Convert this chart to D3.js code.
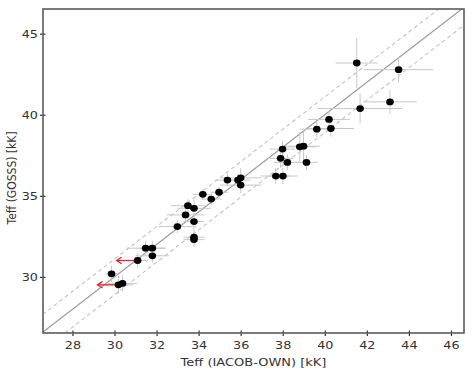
<!DOCTYPE html>
<html>
<head>
<meta charset="utf-8">
<script src="https://cdn.jsdelivr.net/npm/d3@7"></script>
<style>
  body { margin: 0; background: #fff; }
  text { font-family: "DejaVu Sans", sans-serif; fill: #333; }
</style>
</head>
<body>
<div id="chart"></div>
<script>
// Teff from IACOB-OWN (x) vs GOSSS (y), kK
const teffOwn   = [29.86, 30.19, 30.38, 31.10, 31.48, 31.80, 31.80, 32.99, 33.38, 33.49, 33.78, 33.78, 33.78, 33.78,
                   34.20, 34.60, 34.97, 35.37, 35.87, 36.00, 36.00, 37.67, 38.01, 37.90, 38.22, 37.99, 38.81, 38.99,
                   39.13, 39.62, 40.20, 40.29, 41.68, 43.10, 41.52, 43.51];
const teffGosss = [30.19, 29.51, 29.60, 31.01, 31.77, 31.77, 31.30, 33.10, 33.82, 34.39, 34.23, 33.41, 32.45, 32.30,
                   35.09, 34.80, 35.22, 35.97, 35.97, 36.11, 35.66, 36.22, 36.22, 37.31, 37.06, 37.88, 38.02, 38.06,
                   37.06, 39.11, 39.71, 39.15, 40.38, 40.79, 43.19, 42.78];
const errOwn    = [0.3, 0.7, 0.7, 0.5, 0.9, 0.65, 0.8, 0.9, 0.9, 0.8, 0.8, 0.5, 0.5, 0.5,
                   0.45, 0.5, 0.4, 0.6, 0.6, 1.0, 1.0, 0.7, 0.7, 0.6, 0.65, 0.6, 0.8, 0.8,
                   0.55, 0.8, 1.0, 1.1, 2.0, 1.27, 1.0, 1.65];
const errGosss  = [0.5, 0.55, 0.5, 0.45, 0.45, 0.45, 0.4, 0.4, 0.4, 0.4, 0.5, 0.5, 0.45, 0.45,
                   0.35, 0.35, 0.35, 0.4, 0.4, 0.6, 0.5, 0.5, 0.5, 0.6, 0.5, 0.5, 0.9, 0.9,
                   0.45, 0.5, 0.5, 0.5, 0.92, 0.74, 1.54, 0.78];
// upper limits on IACOB-OWN: index of the star, arrow length in kK
const upperLimits = [{i: 1, len: 1.0}, {i: 3, len: 1.0}];

const xTicks = [28, 30, 32, 34, 36, 38, 40, 42, 44, 46];
const yTicks = [30, 35, 40, 45];
const band = 1.1;

const width = 474, height = 375;
const margin = {top: 9, right: 10, bottom: 42, left: 43};
const squash = 0.83; // the figure is a bit flattened vertically

const x = d3.scaleLinear().domain([26.6, 46.62]).range([margin.left, width - margin.right]);
const y = d3.scaleLinear().domain([26.54, 46.52]).range([height - margin.bottom, margin.top]);

const svg = d3.select("#chart").append("svg")
    .attr("width", width)
    .attr("height", height);

svg.append("defs").append("clipPath").attr("id", "plot-clip")
    .append("rect")
    .attr("x", margin.left).attr("y", margin.top)
    .attr("width", x.range()[1] - margin.left)
    .attr("height", y.range()[0] - margin.top);

const plot = svg.append("g").attr("clip-path", "url(#plot-clip)");

// one-to-one line and +-band lines
const lo = 20, hi = 50;
const lines = [
    {d: 0, dash: null, color: "#9a9a9a", w: 1.2},
    {d: band, dash: "4,3", color: "#c4c4c4", w: 1.1},
    {d: -band, dash: "4,3", color: "#c4c4c4", w: 1.1}
];
plot.selectAll("line.diag")
    .data(lines)
    .enter().append("line")
    .attr("class", "diag")
    .attr("x1", x(lo)).attr("y1", d => y(lo + d.d))
    .attr("x2", x(hi)).attr("y2", d => y(hi + d.d))
    .attr("stroke", d => d.color)
    .attr("stroke-width", d => d.w)
    .attr("stroke-dasharray", d => d.dash);

const idx = d3.range(teffOwn.length);

// error bars
plot.selectAll("line.xerr")
    .data(idx)
    .enter().append("line")
    .attr("class", "xerr")
    .attr("x1", i => x(teffOwn[i] - errOwn[i])).attr("x2", i => x(teffOwn[i] + errOwn[i]))
    .attr("y1", i => y(teffGosss[i])).attr("y2", i => y(teffGosss[i]))
    .attr("stroke", "#c8c8c8").attr("stroke-width", 1);

plot.selectAll("line.yerr")
    .data(idx)
    .enter().append("line")
    .attr("class", "yerr")
    .attr("x1", i => x(teffOwn[i])).attr("x2", i => x(teffOwn[i]))
    .attr("y1", i => y(teffGosss[i] - errGosss[i])).attr("y2", i => y(teffGosss[i] + errGosss[i]))
    .attr("stroke", "#c8c8c8").attr("stroke-width", 1);

// upper-limit arrows
const arrows = plot.selectAll("g.limit")
    .data(upperLimits)
    .enter().append("g")
    .attr("class", "limit")
    .attr("stroke", "#e3262b")
    .attr("stroke-width", 1.3)
    .attr("fill", "none");

arrows.append("line")
    .attr("x1", d => x(teffOwn[d.i])).attr("x2", d => x(teffOwn[d.i] - d.len))
    .attr("y1", d => y(teffGosss[d.i])).attr("y2", d => y(teffGosss[d.i]));

arrows.append("path")
    .attr("d", d => {
        const tx = x(teffOwn[d.i] - d.len), ty = y(teffGosss[d.i]);
        return `M${tx + 5},${ty - 3.2}L${tx},${ty}L${tx + 5},${ty + 3.2}`;
    });

// points
plot.selectAll("ellipse.star")
    .data(idx)
    .enter().append("ellipse")
    .attr("class", "star")
    .attr("cx", i => x(teffOwn[i]))
    .attr("cy", i => y(teffGosss[i]))
    .attr("rx", 3.8)
    .attr("ry", 3.4)
    .attr("fill", "#000");

// axes
const xAxis = svg.append("g")
    .attr("transform", `translate(0,${y.range()[0]})`)
    .call(d3.axisBottom(x).tickValues(xTicks).tickSizeInner(3).tickSizeOuter(0));
const yAxis = svg.append("g")
    .attr("transform", `translate(${margin.left},0)`)
    .call(d3.axisLeft(y).tickValues(yTicks).tickSizeInner(3).tickSizeOuter(0));

[xAxis, yAxis].forEach(a => {
    a.select(".domain").remove();
    a.selectAll(".tick line").attr("stroke", "#333").attr("stroke-width", 1.2);
    a.selectAll(".tick text").attr("font-size", 12.8).attr("fill", "#333")
        .attr("x", 0).attr("y", 0).attr("dy", null);
});
xAxis.selectAll(".tick text").attr("transform", `translate(0,16) scale(1,${squash})`);
yAxis.selectAll(".tick text").attr("transform", `translate(-5,3.9) scale(1,${squash})`);
// inner half of ticks
xAxis.selectAll(".tick").append("line").attr("y1", 0).attr("y2", -2.5).attr("stroke", "#333").attr("stroke-width", 1.2);
yAxis.selectAll(".tick").append("line").attr("x1", 0).attr("x2", 2.5).attr("stroke", "#333").attr("stroke-width", 1.2);

// frame
svg.append("rect")
    .attr("x", margin.left).attr("y", margin.top)
    .attr("width", x.range()[1] - margin.left)
    .attr("height", y.range()[0] - margin.top)
    .attr("fill", "none")
    .attr("stroke", "#5a5a5a")
    .attr("stroke-width", 1.6);

// axis titles
svg.append("text")
    .attr("transform", `translate(${(x.range()[0] + x.range()[1]) / 2},366) scale(1,${squash})`)
    .attr("text-anchor", "middle")
    .attr("font-size", 13)
    .text("Teff (IACOB-OWN) [kK]");

svg.append("text")
    .attr("transform", `translate(15.5,178) rotate(-90) scale(${squash},1)`)
    .attr("text-anchor", "middle")
    .attr("font-size", 13)
    .text("Teff (GOSSS) [kK]");
</script>
</body>
</html>
